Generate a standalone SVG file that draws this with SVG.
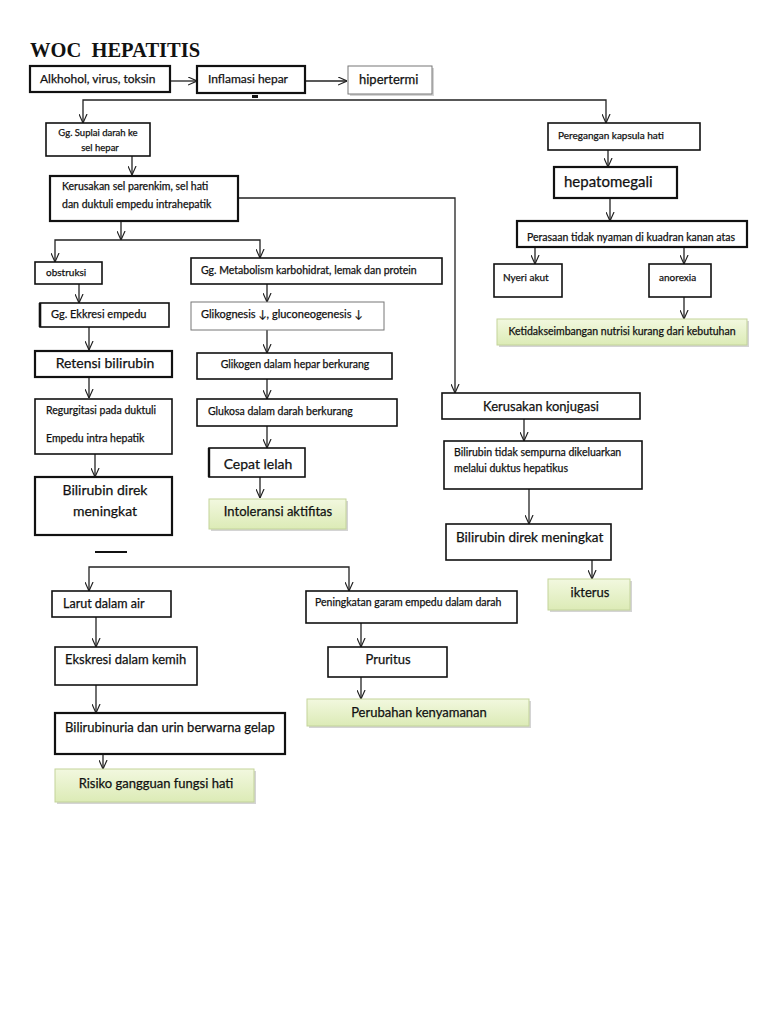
<svg xmlns="http://www.w3.org/2000/svg" width="768" height="1024" viewBox="0 0 768 1024">
<defs>
<marker id="arr" viewBox="0 0 10 10" refX="10" refY="5" markerWidth="9" markerHeight="9" markerUnits="userSpaceOnUse" orient="auto">
<path d="M0,0.5 L10,5 L0,9.5" fill="none" stroke="#222" stroke-width="1.3"/>
</marker>
<linearGradient id="green" x1="0" y1="0" x2="0" y2="1">
<stop offset="0" stop-color="#f2f8df"/>
<stop offset="1" stop-color="#dcebb6"/>
</linearGradient>
<style>
.b{fill:#fff;stroke:#111;stroke-width:1.6}
.bt{fill:#fff;stroke:#111;stroke-width:2.2}
.bg{fill:#fff;stroke:#777;stroke-width:1}
.g{fill:url(#green);stroke:#c3d39a;stroke-width:1}
.sh{fill:#d4d4d4}
.t{font-family:Lato,"Open Sans",sans-serif;fill:#111;stroke:#111;stroke-width:0.25}
.c{stroke:#222;stroke-width:1.3;fill:none}
.ca{stroke:#222;stroke-width:1.3;fill:none;marker-end:url(#arr)}
</style>
</defs>
<rect width="768" height="1024" fill="#fff"/>
<text x="30" y="57" font-family="'Liberation Serif',serif" font-weight="bold" font-size="20.5" fill="#111" xml:space="preserve">WOC  HEPATITIS</text>

<g id="connectors">
<line class="ca" x1="170" y1="81" x2="197" y2="81"/>
<line class="ca" x1="305" y1="81" x2="347" y2="81"/>
<rect x="252" y="95" width="6" height="3" fill="#111"/>
<path class="ca" d="M344,100 H83 V123"/>
<path class="ca" d="M344,100 H606 V123"/>
<line class="ca" x1="132" y1="156" x2="132" y2="175"/>
<path class="ca" d="M238,198 H455 V393"/>
<line class="ca" x1="121" y1="221" x2="121" y2="240"/>
<path class="ca" d="M121,240 H55 V262"/>
<path class="ca" d="M121,240 H260 V258"/>
<line class="ca" x1="79" y1="284" x2="79" y2="303"/>
<line class="ca" x1="267" y1="284" x2="267" y2="302"/>
<line class="ca" x1="89" y1="327" x2="89" y2="350"/>
<line class="ca" x1="267" y1="330" x2="267" y2="353"/>
<line class="ca" x1="89" y1="377" x2="89" y2="398"/>
<line class="ca" x1="267" y1="379" x2="267" y2="399"/>
<line class="ca" x1="95" y1="454" x2="95" y2="477"/>
<line class="ca" x1="267" y1="426" x2="267" y2="448"/>
<line class="ca" x1="260" y1="477" x2="260" y2="498"/>
<line class="ca" x1="608" y1="150" x2="608" y2="167"/>
<line class="ca" x1="610" y1="198" x2="610" y2="221"/>
<line class="ca" x1="535" y1="247" x2="535" y2="264"/>
<line class="ca" x1="684" y1="247" x2="684" y2="264"/>
<line class="ca" x1="684" y1="297" x2="684" y2="319"/>
<line class="ca" x1="524" y1="419" x2="524" y2="441"/>
<line class="ca" x1="529" y1="489" x2="529" y2="524"/>
<line class="ca" x1="592" y1="560" x2="592" y2="579"/>
<line x1="95" y1="552" x2="127" y2="552" stroke="#111" stroke-width="2"/>
<path class="ca" d="M220,567 H89 V591"/>
<path class="ca" d="M220,567 H349 V591"/>
<line class="ca" x1="96" y1="617" x2="96" y2="647"/>
<line class="ca" x1="361" y1="623" x2="361" y2="647"/>
<line class="ca" x1="96" y1="685" x2="96" y2="713"/>
<line class="ca" x1="361" y1="677" x2="361" y2="699"/>
<line class="ca" x1="103" y1="754" x2="103" y2="769"/>
</g>

<g id="n-alkhohol"><rect class="bt" x="30" y="66" width="140" height="26"/><text class="t" x="40" y="83" font-size="12">Alkhohol, virus, toksin</text></g>
<g id="n-inflamasi"><rect class="bt" x="197" y="66" width="108" height="27"/><text class="t" x="208" y="83" font-size="12">Inflamasi hepar</text></g>
<g id="n-hipertermi"><rect class="sh" x="350" y="68" width="84" height="28"/><rect class="bg" x="348" y="66" width="84" height="28"/><text class="t" x="359" y="84" font-size="13">hipertermi</text></g>

<g id="n-suplai"><rect class="b" x="46" y="123" width="104" height="33"/><text class="t" x="98" y="136" font-size="9.5" text-anchor="middle">Gg. Suplai darah ke</text><text class="t" x="100" y="151" font-size="9.5" text-anchor="middle">sel hepar</text></g>
<g id="n-kerusakan"><rect class="bt" x="50" y="176" width="188" height="45"/><text class="t" x="62" y="190" font-size="10.5">Kerusakan sel parenkim, sel hati</text><text class="t" x="62" y="208" font-size="10.5">dan duktuli empedu intrahepatik</text></g>

<g id="n-obstruksi"><rect class="b" x="35" y="262" width="67" height="22"/><text class="t" x="46" y="276" font-size="10">obstruksi</text></g>
<g id="n-metabolism"><rect class="b" x="191" y="258" width="251" height="26"/><text class="t" x="201" y="274" font-size="10.5">Gg. Metabolism karbohidrat, lemak dan protein</text></g>
<g id="n-ekkresi"><rect class="b" x="40" y="303" width="129" height="24"/><line x1="40" y1="303" x2="40" y2="327" stroke="#111" stroke-width="2.6"/><text class="t" x="51" y="318" font-size="11">Gg. Ekkresi empedu</text></g>
<g id="n-glikognesis"><rect class="bg" x="191" y="302" width="193" height="28"/><text class="t" x="201" y="318" font-size="11">Glikognesis ↓, gluconeogenesis ↓</text></g>
<g id="n-retensi"><rect class="bt" x="35" y="351" width="137" height="26"/><text class="t" x="105" y="368" font-size="14" text-anchor="middle">Retensi bilirubin</text></g>
<g id="n-glikogen"><rect class="b" x="197" y="353" width="195" height="26"/><text class="t" x="295" y="368" font-size="10.5" text-anchor="middle">Glikogen dalam hepar berkurang</text></g>
<g id="n-regurgitasi"><rect class="b" x="35" y="399" width="137" height="55"/><text class="t" x="46" y="414" font-size="10.5">Regurgitasi pada duktuli</text><text class="t" x="46" y="442" font-size="10.5">Empedu intra hepatik</text></g>
<g id="n-glukosa"><rect class="b" x="197" y="399" width="200" height="27"/><text class="t" x="208" y="415" font-size="10.5">Glukosa dalam darah berkurang</text></g>
<g id="n-bilirubin1"><rect class="bt" x="35" y="477" width="137" height="58"/><text class="t" x="105" y="495" font-size="14" text-anchor="middle">Bilirubin direk</text><text class="t" x="105" y="516" font-size="14" text-anchor="middle">meningkat</text></g>
<g id="n-cepat"><rect class="b" x="209" y="448" width="96" height="29"/><line x1="209" y1="448" x2="209" y2="477" stroke="#111" stroke-width="2.4"/><text class="t" x="258" y="469" font-size="14" text-anchor="middle">Cepat lelah</text></g>
<g id="n-intoleransi"><rect class="sh" x="211" y="501" width="137" height="30"/><rect class="g" x="209" y="499" width="137" height="30"/><text class="t" x="278" y="516" font-size="13" text-anchor="middle">Intoleransi aktifitas</text></g>

<g id="n-peregangan"><rect class="b" x="548" y="123" width="152" height="27"/><text class="t" x="558" y="139" font-size="10">Peregangan kapsula hati</text></g>
<g id="n-hepatomegali"><rect class="bt" x="554" y="167" width="123" height="31"/><text class="t" x="564" y="187" font-size="15">hepatomegali</text></g>
<g id="n-perasaan"><rect class="bt" x="517" y="221" width="230" height="26"/><text class="t" x="527" y="241" font-size="10.5">Perasaan tidak nyaman di kuadran kanan atas</text></g>
<g id="n-nyeri"><rect class="b" x="494" y="264" width="68" height="33"/><text class="t" x="503" y="281" font-size="10">Nyeri akut</text></g>
<g id="n-anorexia"><rect class="b" x="649" y="264" width="62" height="33"/><text class="t" x="659" y="281" font-size="10">anorexia</text></g>
<g id="n-ketidak"><rect class="sh" x="499" y="321" width="250" height="26"/><rect class="g" x="497" y="319" width="250" height="26"/><text class="t" x="622" y="335" font-size="10.5" text-anchor="middle">Ketidakseimbangan nutrisi kurang dari kebutuhan</text></g>

<g id="n-konjugasi"><rect class="b" x="442" y="393" width="198" height="26"/><text class="t" x="541" y="411" font-size="13" text-anchor="middle">Kerusakan konjugasi</text></g>
<g id="n-tidaksempurna"><rect class="b" x="444" y="441" width="198" height="48"/><text class="t" x="454" y="456" font-size="10.5">Bilirubin tidak sempurna dikeluarkan</text><text class="t" x="454" y="472" font-size="10.5">melalui duktus hepatikus</text></g>
<g id="n-bilirubin2"><rect class="b" x="446" y="524" width="165" height="36"/><text class="t" x="456" y="542" font-size="13.5">Bilirubin direk meningkat</text></g>
<g id="n-ikterus"><rect class="sh" x="550" y="581" width="82" height="31"/><rect class="g" x="548" y="579" width="82" height="31"/><text class="t" x="590" y="597" font-size="13" text-anchor="middle">ikterus</text></g>

<g id="n-larut"><rect class="b" x="52" y="591" width="119" height="26"/><text class="t" x="63" y="608" font-size="12.5">Larut dalam air</text></g>
<g id="n-peningkatan"><rect class="b" x="306" y="591" width="211" height="32"/><text class="t" x="315" y="606" font-size="10.5">Peningkatan garam empedu dalam darah</text></g>
<g id="n-ekskresi"><rect class="b" x="55" y="647" width="142" height="38"/><text class="t" x="65" y="664" font-size="13">Ekskresi dalam kemih</text></g>
<g id="n-pruritus"><rect class="b" x="328" y="647" width="119" height="30"/><text class="t" x="388" y="664" font-size="13" text-anchor="middle">Pruritus</text></g>
<g id="n-bilirubinuria"><rect class="bt" x="55" y="713" width="230" height="41"/><text class="t" x="65" y="732" font-size="13">Bilirubinuria dan urin berwarna gelap</text></g>
<g id="n-perubahan"><rect class="sh" x="309" y="701" width="222" height="27"/><rect class="g" x="307" y="699" width="222" height="27"/><text class="t" x="419" y="717" font-size="13" text-anchor="middle">Perubahan kenyamanan</text></g>
<g id="n-risiko"><rect class="sh" x="57" y="771" width="199" height="33"/><rect class="g" x="55" y="769" width="199" height="33"/><text class="t" x="156" y="788" font-size="13" text-anchor="middle">Risiko gangguan fungsi hati</text></g>
</svg>
